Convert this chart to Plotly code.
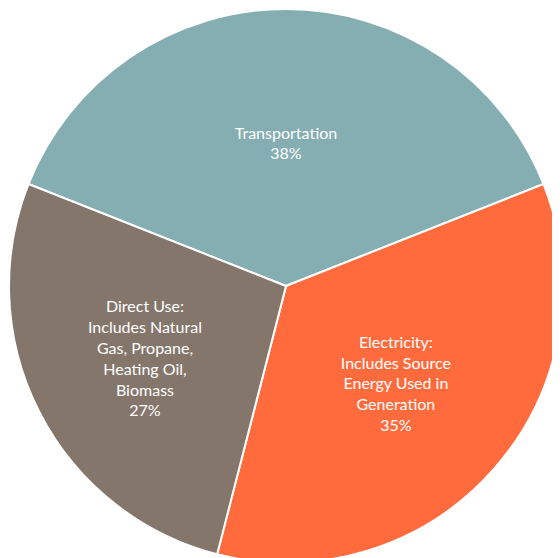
import plotly.graph_objects as go

labels = ["Transportation", "Electricity:<br>Includes Source<br>Energy Used in<br>Generation", "Direct Use:<br>Includes Natural<br>Gas, Propane,<br>Heating Oil,<br>Biomass"]
values = [38, 35, 27]
colors = ["#85AEB2", "#FF6B3D", "#85766B"]

fig = go.Figure(go.Pie(
    labels=labels, values=values, sort=False, direction="clockwise", rotation=291.6,
    marker=dict(colors=colors, line=dict(color="white", width=2)),
    texttemplate="%{label}<br>%{value}%", textposition="inside", insidetextorientation="horizontal",
    textfont=dict(family="Lato", size=16, color="white"), showlegend=False, hoverinfo="skip",
))
fig.update_layout(width=556, height=556, margin=dict(l=1, r=1, t=1, b=1),
                  paper_bgcolor="white", uniformtext=dict(minsize=16, mode="show"))
fig.write_html("out.html", config={"responsive": False})
